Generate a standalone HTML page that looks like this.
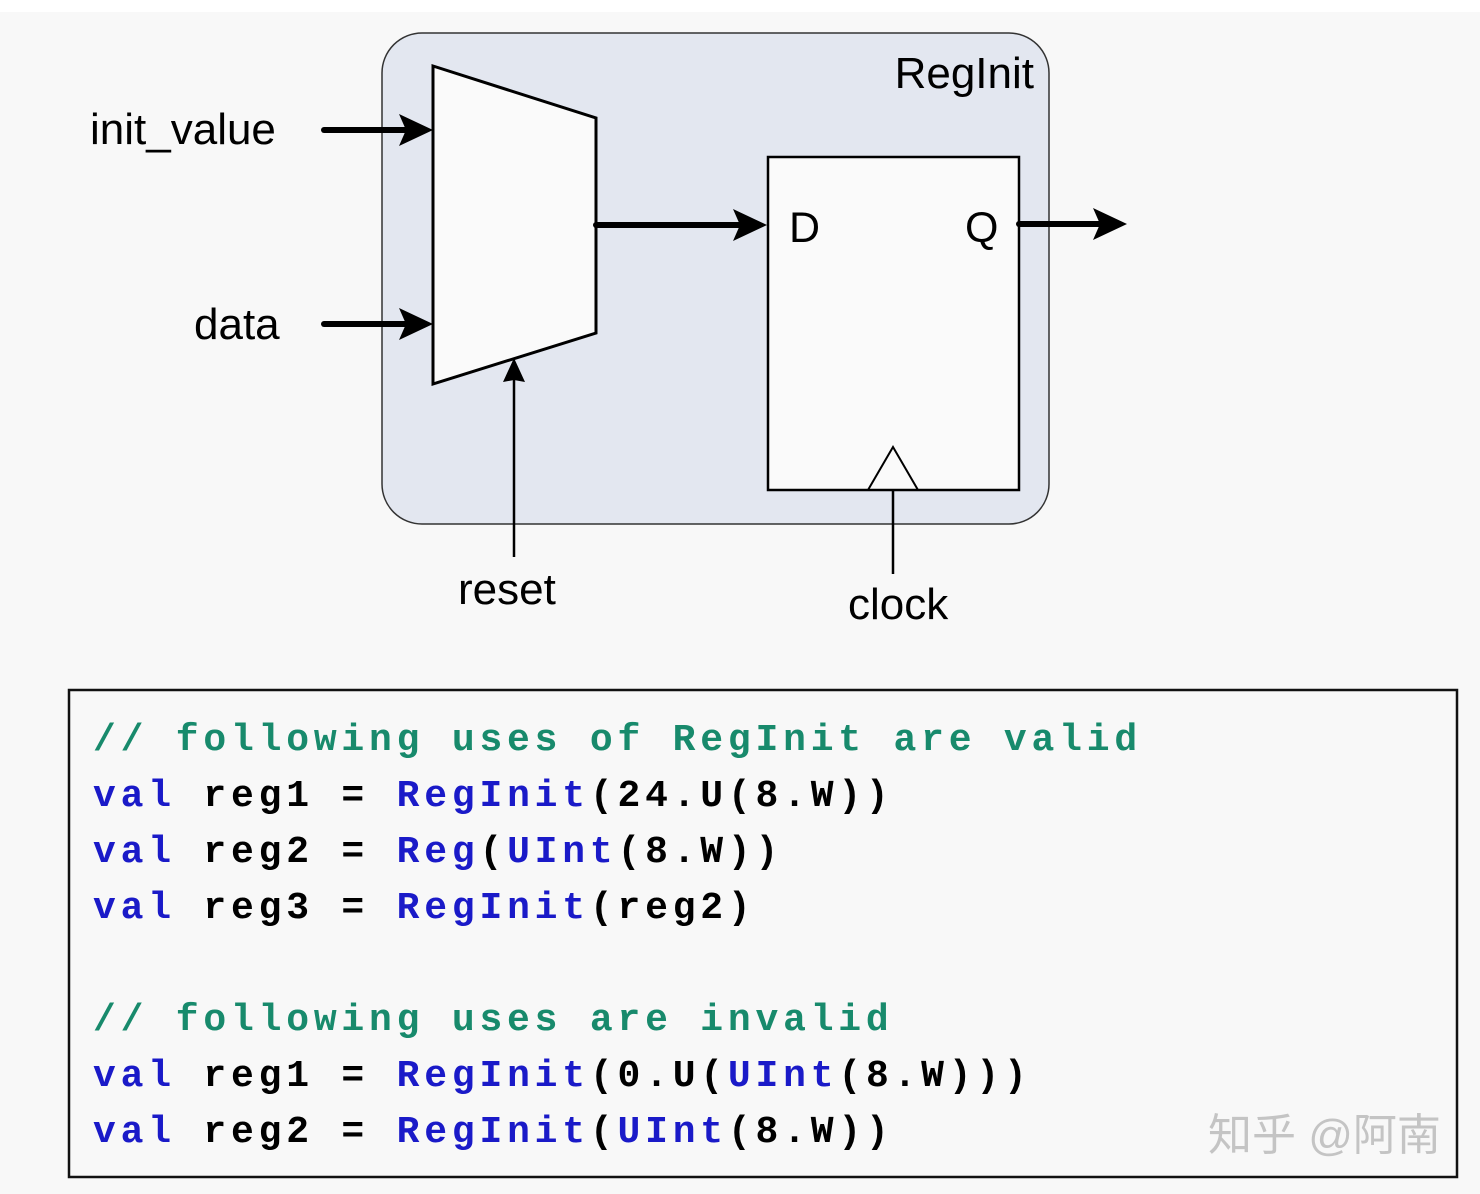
<!DOCTYPE html>
<html><head><meta charset="utf-8"><style>
html,body{margin:0;padding:0;background:#f8f8f8;}
svg{display:block}
</style></head><body>
<svg width="1480" height="1194" viewBox="0 0 1480 1194" xmlns="http://www.w3.org/2000/svg">
<rect x="0" y="0" width="1480" height="1194" fill="#f8f8f8"/>
<rect x="0" y="0" width="1480" height="12" fill="#ffffff"/>
<rect x="382" y="33" width="667" height="491" rx="40" fill="#e3e7f0" stroke="#333" stroke-width="1.5"/>
<text x="1034" y="88" text-anchor="end" font-family="Liberation Sans, sans-serif" font-size="44" fill="#000">RegInit</text>
<polygon points="433,66 596,118 596,333 433,384" fill="#fafafa" stroke="#000" stroke-width="3"/>
<rect x="768" y="157" width="251" height="333" fill="#fafafa" stroke="#000" stroke-width="2.5"/>
<polyline points="868,490 893,447 918,490" fill="none" stroke="#000" stroke-width="2"/>
<text x="789" y="242" font-family="Liberation Sans, sans-serif" font-size="43">D</text>
<text x="965" y="242" font-family="Liberation Sans, sans-serif" font-size="43">Q</text>
<g stroke="#000" stroke-width="6" stroke-linecap="round">
<line x1="324" y1="130" x2="405" y2="130"/>
<line x1="324" y1="324" x2="405" y2="324"/>
<line x1="596" y1="225" x2="740" y2="225"/>
<line x1="1019" y1="224" x2="1100" y2="224"/>
</g>
<g fill="#000">
<polygon points="399,114 433,130 399,146 406,130"/>
<polygon points="399,308 433,324 399,340 406,324"/>
<polygon points="733,209 767,225 733,241 740,225"/>
<polygon points="1093,208 1127,224 1093,240 1100,224"/>
<polygon points="503,382 514,358 525,382 514,380"/>
</g>
<line x1="514" y1="557" x2="514" y2="378" stroke="#000" stroke-width="2.5"/>
<line x1="893" y1="490" x2="893" y2="574" stroke="#000" stroke-width="2.5"/>
<g font-family="Liberation Sans, sans-serif" font-size="44" fill="#000">
<text x="90" y="144">init_value</text>
<text x="194" y="339">data</text>
<text x="458" y="604">reset</text>
<text x="848" y="619">clock</text>
</g>
<rect x="69" y="690" width="1388" height="487" fill="#f8f8f8" stroke="#111" stroke-width="2.5"/>
<g font-family="Liberation Mono, monospace" font-size="38" font-weight="bold" letter-spacing="4.8" fill="#000">
<text x="93" y="750"><tspan fill="#188a6c">// following uses of RegInit are valid</tspan></text>
<text x="93" y="806"><tspan fill="#1a1ac8">val</tspan> reg1 = <tspan fill="#1a1ac8">RegInit</tspan>(24.U(8.W))</text>
<text x="93" y="862"><tspan fill="#1a1ac8">val</tspan> reg2 = <tspan fill="#1a1ac8">Reg</tspan>(<tspan fill="#1a1ac8">UInt</tspan>(8.W))</text>
<text x="93" y="918"><tspan fill="#1a1ac8">val</tspan> reg3 = <tspan fill="#1a1ac8">RegInit</tspan>(reg2)</text>
<text x="93" y="1030"><tspan fill="#188a6c">// following uses are invalid</tspan></text>
<text x="93" y="1086"><tspan fill="#1a1ac8">val</tspan> reg1 = <tspan fill="#1a1ac8">RegInit</tspan>(0.U(<tspan fill="#1a1ac8">UInt</tspan>(8.W)))</text>
<text x="93" y="1142"><tspan fill="#1a1ac8">val</tspan> reg2 = <tspan fill="#1a1ac8">RegInit</tspan>(<tspan fill="#1a1ac8">UInt</tspan>(8.W))</text>
</g>
<text x="1208" y="1150" font-family="Liberation Sans, 'Noto Sans CJK SC', sans-serif" font-size="44" fill="#c4c4c4">知乎 @阿南</text>
</svg>
</body></html>
